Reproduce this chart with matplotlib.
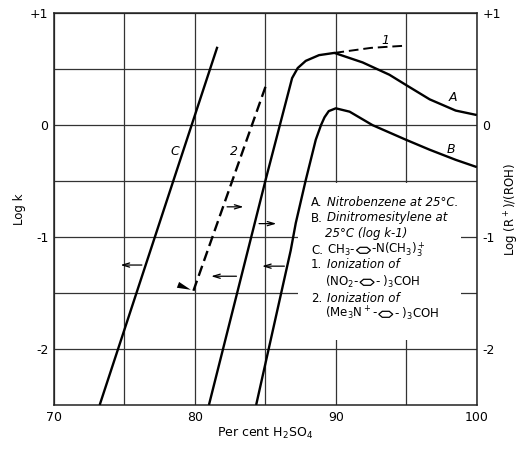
import matplotlib
matplotlib.use('Agg')
import matplotlib.pyplot as plt
from matplotlib.patches import Rectangle, Polygon
from matplotlib.transforms import IdentityTransform

# curve data (per cent H2SO4, log k)
c_x = [73.25, 81.6]
c_y = [-2.5, 0.70]

two_x = [79.9, 85.06]
two_y = [-1.48, 0.36]

a_x = [81.0, 85.06, 86.9, 87.3, 87.87, 88.81, 89.9, 91.9, 93.8, 94.96, 96.66, 98.5, 100.0]
a_y = [-2.5, -0.47, 0.42, 0.51, 0.574, 0.625, 0.645, 0.56, 0.45, 0.36, 0.23, 0.13, 0.09]

b_x = [84.35, 86.8, 87.16, 87.87, 88.58, 88.95, 89.2, 89.5, 90.0, 90.98, 92.6, 94.96, 96.66, 98.5, 100.0]
b_y = [-2.5, -1.12, -0.875, -0.49, -0.13, 0.0, 0.07, 0.125, 0.15, 0.12, 0.0, -0.13, -0.22, -0.31, -0.375]

one_x = [89.9, 92.5, 95.0]
one_y = [0.645, 0.69, 0.71]

# shift arrows: (start x, end x, y)
arrows = [(76.44, 74.53, -1.25), (82.09, 83.65, -0.73), (84.36, 85.98, -0.88),
          (86.55, 84.57, -1.26), (83.15, 80.96, -1.35)]

ytick_vals = [1, 0, -1, -2]
ytick_text = ['+1', '0', '-1', '-2']
xtick_vals = [70, 80, 90, 100]
xtick_text = ['70', '80', '90', '100']

RING = None
# (prefix, pieces, italic)
legend_lines = [
    ('A.', ['Nitrobenzene at 25°C.'], True),
    ('B.', ['Dinitromesitylene at'], True),
    ('', ['25°C (log k-1)'], True),
    ('C.', ['CH$_3$-', RING, '-N(CH$_3$)$_3^+$'], False),
    ('1.', ['Ionization of'], True),
    ('', ['(NO$_2$-', RING, '- )$_3$COH'], False),
    ('2.', ['Ionization of'], True),
    ('', ['(Me$_3$N$^+$-', RING, '- )$_3$COH'], False),
]

W, H = 528, 454
fig = plt.figure(figsize=(5.28, 4.54), dpi=100)
ax = fig.add_axes([0.102, 0.108, 0.801, 0.863])
ax.set_xlim(70, 100)
ax.set_ylim(-2.5, 1)

ax.set_xticks(xtick_vals)
ax.set_xticklabels(xtick_text, fontsize=9)
ax.set_xticks([75, 85, 95], minor=True)
ax.set_yticks(ytick_vals)
ax.set_yticklabels(ytick_text, fontsize=9)
ax.set_yticks([0.5, -0.5, -1.5], minor=True)
ax.tick_params(which='both', length=0, pad=4)
ax.grid(True, which='both', color='#333333', lw=0.9)
ax.set_axisbelow(True)
for s in ax.spines.values():
    s.set_linewidth(1.1)
    s.set_color('#222222')

# white panel behind the key
ax.add_patch(Rectangle((87.33, -1.92), 98.9 - 87.33, -0.52 + 1.92,
                       facecolor='white', edgecolor='none', zorder=1.5))

kw = dict(color='black', lw=1.7, zorder=3, solid_capstyle='butt', solid_joinstyle='round')
ax.plot(c_x, c_y, **kw)
ax.plot(a_x, a_y, **kw)
ax.plot(b_x, b_y, **kw)
ax.plot(two_x, two_y, color='black', lw=1.7, ls=(0, (4.5, 2.2)), zorder=3)
ax.plot(one_x, one_y, color='black', lw=1.4, ls=(0, (5, 2.5)), zorder=3)
ax.annotate('', xy=(two_x[0], two_y[0]), xytext=(-13, 5), textcoords='offset points',
            arrowprops=dict(arrowstyle='wedge,tail_width=0.45', color='black', lw=0),
            zorder=4)

for x0, x1, y in arrows:
    ax.annotate('', xy=(x1, y), xytext=(x0, y),
                arrowprops=dict(arrowstyle='->,head_length=0.5,head_width=0.15',
                                color='black', lw=0.9), zorder=4)

ax.text(78.56, -0.24, 'C', fontsize=9, style='italic', ha='center', va='center')
ax.text(82.8, -0.24, '2', fontsize=9, style='italic', ha='center', va='center')
ax.text(98.3, 0.25, 'A', fontsize=9, style='italic', ha='center', va='center')
ax.text(98.15, -0.22, 'B', fontsize=9, style='italic', ha='center', va='center')
ax.text(93.55, 0.76, '1', fontsize=9, style='italic', ha='center', va='center')

ax2 = ax.twinx()
ax2.set_ylim(-2.5, 1)
ax2.set_yticks(ytick_vals)
ax2.set_yticklabels(ytick_text, fontsize=9)
ax2.tick_params(length=0, pad=4)
for s in ax2.spines.values():
    s.set_visible(False)

ax.set_ylabel('Log k', fontsize=8.5, labelpad=3)
ax2.set_ylabel('Log (R$^+$)/(ROH)', fontsize=8.5, rotation=90, labelpad=1)
ax.set_xlabel('Per cent H$_2$SO$_4$', fontsize=9, labelpad=2)

# key text, placed piece by piece so the ring can be drawn between pieces
renderer = fig.canvas.get_renderer()
centers = [203, 218, 234, 250, 265, 282, 298, 314]
for (pre, pieces, ital), cy in zip(legend_lines, centers):
    base = H - (cy + 3.5)
    if pre:
        fig.text(311, base, pre, transform=IdentityTransform(), fontsize=8.5,
                 ha='left', va='baseline', zorder=5)
    x = 327 if pre else 325
    for p in pieces:
        if p is RING:
            w, h = 14, 6
            x += 1
            ym = base + 3.2
            verts = [(x, ym), (x + 3.5, ym + h / 2), (x + w - 3.5, ym + h / 2),
                     (x + w, ym), (x + w - 3.5, ym - h / 2), (x + 3.5, ym - h / 2)]
            fig.patches.append(Polygon(verts, closed=True, fill=False, lw=0.9,
                                       edgecolor='black', transform=IdentityTransform(),
                                       figure=fig))
            x += w + 1
            continue
        t = fig.text(x, base, p, transform=IdentityTransform(), fontsize=8.5,
                     style='italic' if ital else 'normal', ha='left', va='baseline',
                     zorder=5)
        x = t.get_window_extent(renderer).x1

fig.savefig('out.png', dpi=100)
